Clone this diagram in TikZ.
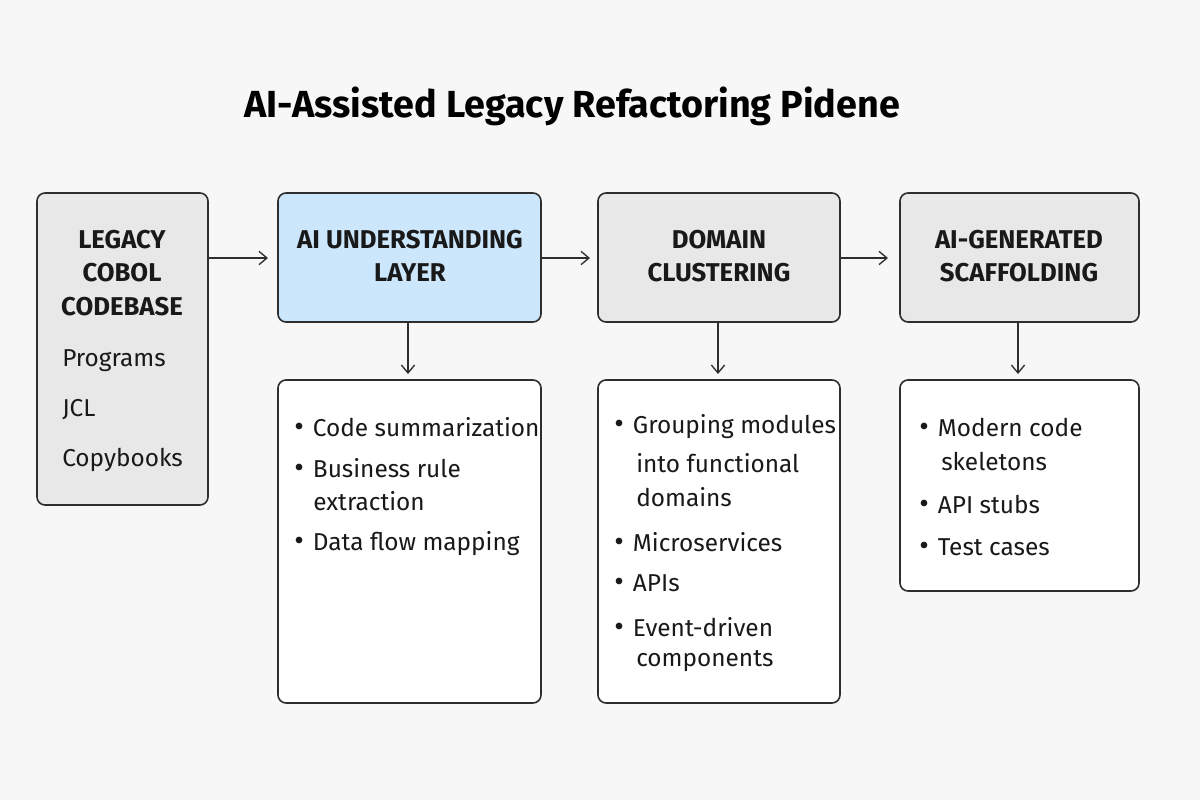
\documentclass[tikz,border=0pt]{standalone}
\usepackage{fontspec}
\setmainfont{Fira Sans}
\usetikzlibrary{arrows.meta}
\definecolor{bg}{HTML}{F7F7F7}
\definecolor{gbox}{HTML}{E8E8E8}
\definecolor{bbox}{HTML}{CCE6FB}
\definecolor{ln}{HTML}{2E2E2E}
\newcommand{\bul}{\makebox[14pt][l]{\fontsize{22}{22}\selectfont•}}
\begin{document}
\begin{tikzpicture}[x=0.75pt,y=-0.75pt,
 box/.style={draw=ln,line width=1.2pt,rounded corners=6pt},
 hd/.style={font=\fontsize{19.3}{25}\selectfont\bfseries,align=center,text=black!90},
 it/.style={font=\fontsize{18.3}{25}\selectfont,anchor=west,text=black!90,inner sep=0pt},
 arr/.style={draw=ln,line width=1pt,-{Straight Barb[length=6pt,width=10pt]}}]
\fill[bg] (0,0) rectangle (1200,800);
\useasboundingbox (0,0) rectangle (1200,800);
\node[font=\fontsize{28.3}{32}\selectfont\bfseries] (title) at (572,106) {AI-Assisted Legacy Refactoring Pidene};
\draw[box,fill=gbox] (37,193) rectangle (208,505);
\draw[box,fill=bbox] (278,193) rectangle (541,322);
\draw[box,fill=gbox] (598,193) rectangle (840,322);
\draw[box,fill=gbox] (900,193) rectangle (1139,322);
\draw[box,fill=white] (278,380) rectangle (541,703);
\draw[box,fill=white] (598,380) rectangle (840,703);
\draw[box,fill=white] (900,380) rectangle (1139,591);
\coordinate (a1) at (208,258); \coordinate (a2) at (268,258);
\coordinate (b1) at (541,258); \coordinate (b2) at (590,258);
\coordinate (c1) at (840,258); \coordinate (c2) at (888,258);
\coordinate (d1) at (408,322); \coordinate (d2) at (408,374);
\coordinate (e1) at (718,322); \coordinate (e2) at (718,374);
\coordinate (f1) at (1018,322); \coordinate (f2) at (1018,374);
\foreach \s/\t in {a1/a2,b1/b2,c1/c2,d1/d2,e1/e2,f1/f2} \draw[arr] (\s) -- (\t);
\node[hd] (h1) at (122,273) {LEGACY\\COBOL\\CODEBASE};
\node[it] (l1) at (62,361) {Programs};
\node[it] (l2) at (62,410) {JCL};
\node[it] (l3) at (62,460) {Copybooks};
\node[hd] (h2) at (410,256) {AI UNDERSTANDING\\LAYER};
\node[hd] (h3) at (719,256) {DOMAIN\\CLUSTERING};
\node[hd] (h4) at (1019,256) {AI-GENERATED\\SCAFFOLDING};
% column 2
\node[it] (p1) at (294,427) {\bul Code summarization};
\node[it] (p2) at (294,468) {\bul Business rule};
\node[it] (p3) at (313,501) {extraction};
\node[it] (p4) at (294,544) {\bul Data flow mapping};
% column 3
\node[it] (q1) at (614,427) {\bul Grouping modules};
\node[it] (q2) at (636,463) {into functional};
\node[it] (q3) at (636,497) {domains};
\node[it] (q4) at (614,542) {\bul Microservices};
\node[it] (q5) at (614,583) {\bul APIs};
\node[it] (q6) at (614,627) {\bul Event-driven};
\node[it] (q7) at (636,661) {components};
% column 4
\node[it] (r1) at (919,427) {\bul Modern code};
\node[it] (r2) at (941,461) {skeletons};
\node[it] (r3) at (919,504) {\bul API stubs};
\node[it] (r4) at (919,547) {\bul Test cases};
\end{tikzpicture}
\end{document}
